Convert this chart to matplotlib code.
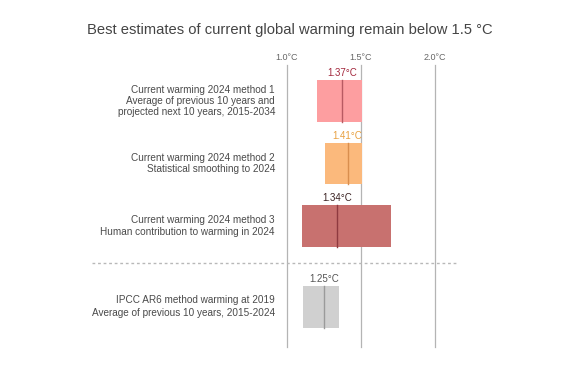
import matplotlib.pyplot as plt

plt.rcParams['font.family'] = ['Liberation Sans', 'DejaVu Sans']

# data (deg C): low end, best estimate, high end
labels = [
    "Current warming 2024 method 1\nAverage of previous 10 years and\nprojected next 10 years, 2015-2034",
    "Current warming 2024 method 2\nStatistical smoothing to 2024",
    "Current warming 2024 method 3\nHuman contribution to warming in 2024",
    "IPCC AR6 method warming at 2019\nAverage of previous 10 years, 2015-2024",
]
low = [1.20, 1.26, 1.10, 1.11]
best = [1.37, 1.41, 1.34, 1.25]
high = [1.51, 1.51, 1.70, 1.35]
ticks = [1.0, 1.5, 2.0]

box_colors = ['#fd9ea0', '#fbb97c', '#c8716f', '#d0d0d0']
line_colors = ['#b85a62', '#d98e4e', '#8f3a40', '#9a9a9a']
text_colors = ['#a3283d', '#e8a040', '#3a2222', '#555555']
rows = [0, 1, 2, 3.29]
label_spacing = [1.1, 1.15, 1.15, 1.45]

W, H = 580, 366
fig = plt.figure(figsize=(W / 100, H / 100), dpi=100)
ax = fig.add_axes([0, 0, 1, 1])
ax.axis('off')

# pixel mapping: 1.0C -> x=287, 2.0C -> x=435 ; row 0 -> y=101, 62.5 px per row
px_per_deg = 148
ax.set_xlim(1 - 287 / px_per_deg, 1 + (W - 287) / px_per_deg)
row_px = 62.5
ax.set_ylim((H - 101) / row_px, -101 / row_px)

# grid lines and tick labels
for t in ticks:
    ax.plot([t, t], [-0.58, 3.94], color='#b4b4b4', lw=0.9, zorder=1)
    ax.text(t, -0.70, f"{t:.1f}°C", ha='center', va='center', fontsize=6.5, color='#666666')

# dashed separator
ax.plot([1 - (287 - 92) / px_per_deg, 1 + (458 - 287) / px_per_deg], [2.59, 2.59],
        color='#b8b8b8', lw=1, ls=(0, (2, 2)), zorder=1)

bh = 0.67
for i in range(len(labels)):
    y = rows[i]
    ax.barh(y, high[i] - low[i], left=low[i], height=bh, color=box_colors[i], zorder=2)
    ax.plot([best[i], best[i]], [y - bh / 2, y + bh / 2], color=line_colors[i], lw=1, zorder=3)
    ax.text(best[i], y - bh / 2 - 0.03, f"{best[i]:.2f}°C", ha='center', va='bottom',
            fontsize=7, color=text_colors[i], zorder=4)
    ax.text(1 - 12 / px_per_deg, y, labels[i], ha='right', va='center', fontsize=7.2,
            color='#4a4a4a', linespacing=label_spacing[i])

fig.text(290 / W, 1 - 30 / H, "Best estimates of current global warming remain below 1.5 °C",
         ha='center', va='center', fontsize=10.6, color='#444444')

fig.savefig('out.png', dpi=100, facecolor='white')
